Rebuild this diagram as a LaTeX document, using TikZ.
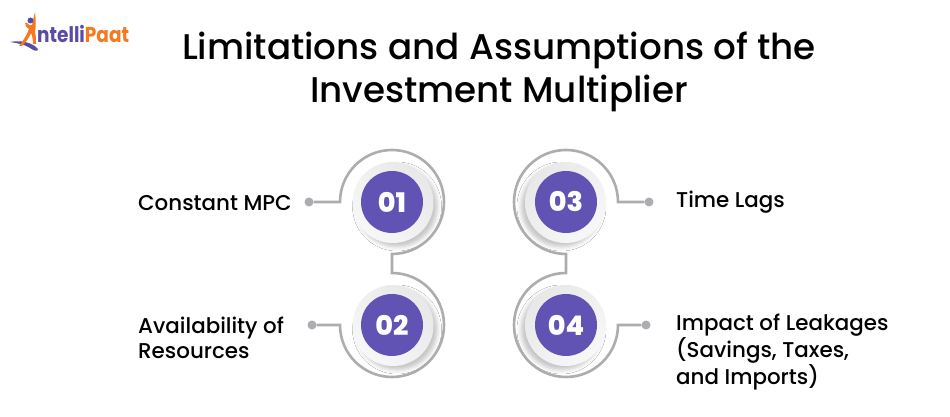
\documentclass[tikz,border=0pt]{standalone}
\usepackage{fontspec}
\usepackage{graphicx}
\setmainfont{Poppins}
\newfontfamily\medfont{Poppins Medium}
\newfontfamily\heavyfont{Poppins ExtraBold}
\usetikzlibrary{calc,shadows.blur}
\definecolor{numfill}{HTML}{6153B4}
\definecolor{ringgray}{HTML}{ABADB0}
\definecolor{logopurple}{HTML}{5A4BA6}
\definecolor{logoorange}{HTML}{F47A20}
\tikzset{
  numdisc/.style={circle,minimum size=62pt,inner sep=0pt,fill=numfill,text=white,font=\heavyfont\fontsize{27}{27}\selectfont},
  backdisc/.style={circle,minimum size=81pt,inner sep=0pt,left color=black!9,right color=black!3},
  item/.style={anchor=west,align=left,inner sep=0pt,text=black,font=\medfont\fontsize{21.4}{25.5}\selectfont},
  ringline/.style={draw=ringgray,line width=2.6pt},
  enddot/.style={circle,minimum size=9pt,inner sep=0pt,fill=ringgray},
}
\begin{document}
\begin{tikzpicture}[x=1pt,y=1pt]
\useasboundingbox (0,0) rectangle (950,417);
\fill[white] (0,0) rectangle (950,417);
% logo
\begin{scope}[yshift=417pt,y=-1pt]
\fill[logopurple] (10,42) .. controls (20,40) and (32,42) .. (38,49) .. controls (38,52) and (34,51) .. (30,48) .. controls (24,44) and (16,43) .. (10,42) -- cycle;
\fill[logoorange] (35,12) .. controls (36,20) and (36,28) .. (35,32) .. controls (36,36) and (36,40) .. (36,44) -- (33,44) .. controls (33,39) and (32,35) .. (31,33) .. controls (29,38) and (26,42) .. (22,46) -- (19,46) .. controls (23,41) and (27,35) .. (29,29) .. controls (27,28) and (25,26) .. (25,23) -- (27,23) .. controls (28,25) and (30,26) .. (32,25) -- cycle;
\fill[logopurple] (30.5,20.5) circle (3);
\end{scope}
\node[inner sep=0pt,anchor=base west,font=\bfseries\fontsize{21.5}{21.5}\selectfont] (logo) at (37,374) {\scalebox{.86}[1]{\textcolor{logopurple}{ntelli}\textcolor{logoorange}{Paat}}};
% title
\node[align=center,font=\medfont\fontsize{35.7}{43}\selectfont] (title) at (499,345.5) {Limitations and Assumptions of the\\Investment Multiplier};
% discs
\node[backdisc,shading angle=-45,blur shadow={shadow xshift=4pt,shadow yshift=-4pt,shadow blur radius=4pt,shadow opacity=22}] (b1) at (393,214.5) {};
\node[backdisc,shading angle=-45,blur shadow={shadow xshift=4pt,shadow yshift=-4pt,shadow blur radius=4pt,shadow opacity=22}] (b2) at (393,91.5) {};
\node[backdisc,shading angle=45,blur shadow={shadow xshift=-4pt,shadow yshift=-4pt,shadow blur radius=4pt,shadow opacity=22}] (b3) at (565.5,214.5) {};
\node[backdisc,shading angle=45,blur shadow={shadow xshift=-4pt,shadow yshift=-4pt,shadow blur radius=4pt,shadow opacity=22}] (b4) at (565.5,91.5) {};
\node[numdisc] (n1) at (392,215) {01};
\node[numdisc] (n2) at (392,92) {02};
\node[numdisc] (n3) at (566,215) {03};
\node[numdisc] (n4) at (566,92) {04};
\node[enddot] (d1) at (309,215) {};
\node[enddot] (d2) at (312,92) {};
\node[enddot] (d3) at (649,215) {};
\node[enddot] (d4) at (646,92) {};
\draw[ringline] (d1) -- ($(n1)+(-52,0)$) arc[start angle=180,end angle=-90,radius=52] -- ($(n2)+(0,52)$) arc[start angle=90,end angle=-180,radius=52] -- (d2);
\draw[ringline] (d3) -- ($(n3)+(52,0)$) arc[start angle=0,end angle=270,radius=52] -- ($(n4)+(0,52)$) arc[start angle=90,end angle=360,radius=52] -- (d4);
\node[item] (t1) at (138,214) {Constant MPC};
\node[item] (t2) at (138,79) {Availability of\\Resources};
\node[item] (t3) at (676,214.5) {Time Lags};
\node[item] (t4) at (676,65) {Impact of Leakages\\(Savings, Taxes,\\and Imports)};
\end{tikzpicture}
\end{document}
